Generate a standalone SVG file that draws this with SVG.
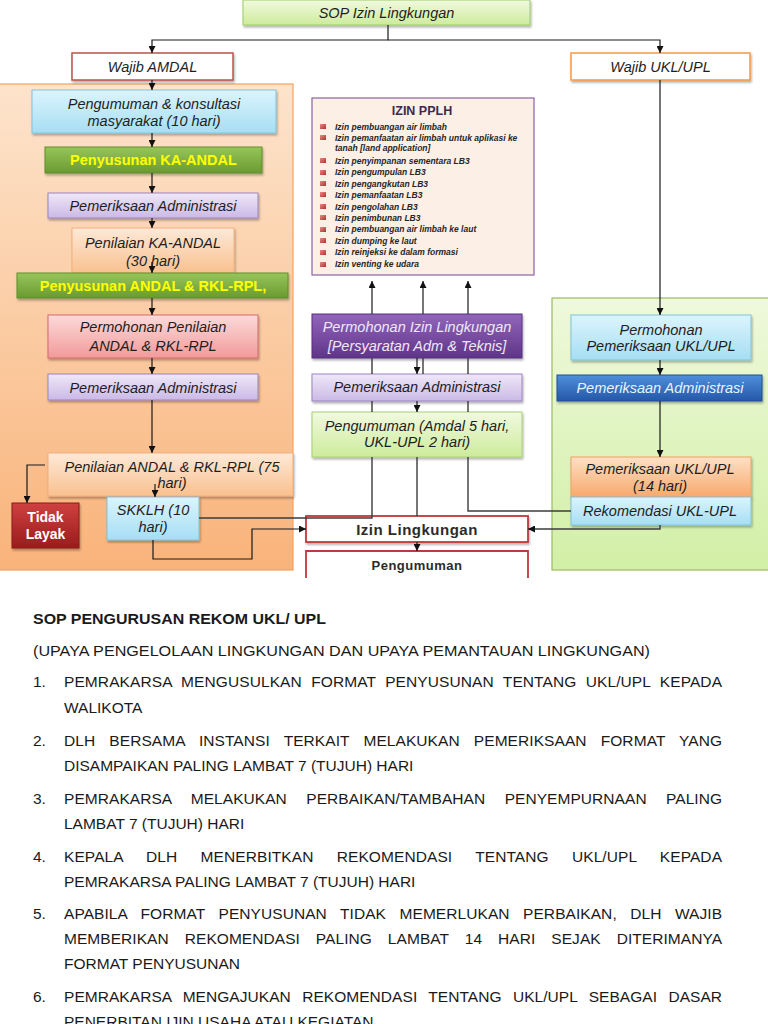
<svg xmlns="http://www.w3.org/2000/svg" width="768" height="1024" viewBox="0 0 768 1024">
<defs>
<linearGradient id="gLime" x1="0" y1="0" x2="0" y2="1"><stop offset="0" stop-color="#f1fadf"/><stop offset="1" stop-color="#cdeb9c"/></linearGradient>
<linearGradient id="gBlue" x1="0" y1="0" x2="0" y2="1"><stop offset="0" stop-color="#dcf4fd"/><stop offset="1" stop-color="#a6def3"/></linearGradient>
<linearGradient id="gGreen" x1="0" y1="0" x2="0" y2="1"><stop offset="0" stop-color="#97c55a"/><stop offset="1" stop-color="#6a9a30"/></linearGradient>
<linearGradient id="gLav" x1="0" y1="0" x2="0" y2="1"><stop offset="0" stop-color="#efe8f8"/><stop offset="1" stop-color="#cbb9e6"/></linearGradient>
<linearGradient id="gPeach" x1="0" y1="0" x2="0" y2="1"><stop offset="0" stop-color="#fde9d8"/><stop offset="1" stop-color="#f9c18f"/></linearGradient>
<linearGradient id="gPink" x1="0" y1="0" x2="0" y2="1"><stop offset="0" stop-color="#fcdada"/><stop offset="1" stop-color="#f29a9a"/></linearGradient>
<linearGradient id="gRed" x1="0" y1="0" x2="0" y2="1"><stop offset="0" stop-color="#cf4040"/><stop offset="1" stop-color="#9a1c1c"/></linearGradient>
<linearGradient id="gPurple" x1="0" y1="0" x2="0" y2="1"><stop offset="0" stop-color="#9266bb"/><stop offset="1" stop-color="#5f3588"/></linearGradient>
<linearGradient id="gDBlue" x1="0" y1="0" x2="0" y2="1"><stop offset="0" stop-color="#4f8fdc"/><stop offset="1" stop-color="#2458a8"/></linearGradient>
<linearGradient id="gOrangeBox" x1="0" y1="0" x2="0" y2="1"><stop offset="0" stop-color="#fde0c6"/><stop offset="1" stop-color="#f8a96c"/></linearGradient>
<linearGradient id="gRegO" x1="0" y1="0" x2="0" y2="1"><stop offset="0" stop-color="#fde4cc"/><stop offset="1" stop-color="#f9b37a"/></linearGradient>
<linearGradient id="gRegG" x1="0" y1="0" x2="0" y2="1"><stop offset="0" stop-color="#eef9dc"/><stop offset="1" stop-color="#d2efa6"/></linearGradient>
<linearGradient id="gBul" x1="0" y1="0" x2="1" y2="1"><stop offset="0" stop-color="#e88a86"/><stop offset="1" stop-color="#a83430"/></linearGradient>
<filter id="sh" x="-10%" y="-20%" width="125%" height="160%"><feDropShadow dx="1" dy="2" stdDeviation="1.2" flood-color="#000" flood-opacity="0.3"/></filter>
<marker id="ah" viewBox="0 0 10 10" refX="10" refY="5" markerWidth="7" markerHeight="7" markerUnits="userSpaceOnUse" orient="auto"><path d="M0,0 L10,5 L0,10 z" fill="#111"/></marker>
</defs>
<style>
.t{font-family:"Liberation Sans",Arial,sans-serif;font-style:italic;font-size:14.5px;fill:#1e1e1e;text-anchor:middle}
.tw{font-family:"Liberation Sans",Arial,sans-serif;font-style:italic;font-size:14.5px;fill:#f0e8f8;text-anchor:middle}
.ty{font-family:"Liberation Sans",Arial,sans-serif;font-weight:bold;font-size:14.5px;fill:#ffff00;text-anchor:middle}
.tk{font-family:"Liberation Sans",Arial,sans-serif;font-weight:bold;fill:#2b2b2b;text-anchor:middle;letter-spacing:0.5px}
.c{fill:none;stroke:#1a1a1a;stroke-width:1.2}
.cg{fill:none;stroke:#3c3c3c;stroke-width:1.4}
.p{font-family:"Liberation Sans",Arial,sans-serif;font-style:italic;font-weight:bold;font-size:8.5px;fill:#262626}
.b{font-family:"Liberation Sans",Arial,sans-serif;font-size:15.5px;fill:#1a1a1a}
</style>

<g id="region-amdal"><rect x="-2" y="84" width="295" height="486" fill="url(#gRegO)" stroke="#f5a05c" stroke-width="1.2"/></g>
<g id="region-ukl"><rect x="552" y="298" width="220" height="272" fill="url(#gRegG)" stroke="#9bbb59" stroke-width="1.2"/></g>

<g id="nodes">
<g id="n-sop"><rect x="243" y="0" width="287" height="25" fill="url(#gLime)" stroke="#9ccb62" filter="url(#sh)"/><text class="t" x="386.5" y="18">SOP Izin Lingkungan</text></g>
<g id="n-wajib-amdal"><rect x="72" y="53" width="161" height="27" fill="#fff" stroke="#c0504d" stroke-width="1.5" filter="url(#sh)"/><text class="t" x="152.5" y="71.5">Wajib AMDAL</text></g>
<g id="n-wajib-ukl"><rect x="571" y="53" width="179" height="27" fill="#fff" stroke="#f79646" stroke-width="1.5" filter="url(#sh)"/><text class="t" x="660.5" y="71.5">Wajib UKL/UPL</text></g>

<g id="n-pengumuman-konsultasi"><rect x="32" y="90" width="244" height="43" fill="url(#gBlue)" stroke="#7fc4dc" filter="url(#sh)"/><text class="t" x="154" y="109">Pengumuman &amp; konsultasi</text><text class="t" x="154" y="126">masyarakat (10 hari)</text></g>
<g id="n-penyusunan-ka"><rect x="45" y="147" width="217" height="26" fill="url(#gGreen)" stroke="#5f8f2a" filter="url(#sh)"/><text class="ty" x="153.5" y="165">Penyusunan KA-ANDAL</text></g>
<g id="n-pemeriksaan-1"><rect x="48" y="193" width="210" height="25" fill="url(#gLav)" stroke="#9b84c0" filter="url(#sh)"/><text class="t" x="153" y="211">Pemeriksaan Administrasi</text></g>
<g id="n-penilaian-ka"><rect x="72" y="228" width="162" height="45" fill="url(#gPeach)" stroke="#f3b07c" filter="url(#sh)"/><text class="t" x="153" y="248">Penilaian KA-ANDAL</text><text class="t" x="153" y="266">(30 hari)</text></g>
<g id="n-penyusunan-andal"><rect x="17" y="273" width="271" height="25" fill="url(#gGreen)" stroke="#5f8f2a" filter="url(#sh)"/><text class="ty" x="153" y="290.5">Penyusunan ANDAL &amp; RKL-RPL,</text></g>
<g id="n-permohonan-penilaian"><rect x="48" y="315" width="210" height="43" fill="url(#gPink)" stroke="#d46a6a" filter="url(#sh)"/><text class="t" x="153" y="332">Permohonan Penilaian</text><text class="t" x="153" y="351">ANDAL &amp; RKL-RPL</text></g>
<g id="n-pemeriksaan-2"><rect x="48" y="374" width="210" height="26" fill="url(#gLav)" stroke="#9b84c0" filter="url(#sh)"/><text class="t" x="153" y="393">Pemeriksaan Administrasi</text></g>
<g id="n-penilaian-andal"><rect x="48" y="453" width="245" height="43" fill="url(#gPeach)" stroke="#f3b07c" filter="url(#sh)"/><text class="t" x="172" y="472">Penilaian ANDAL &amp; RKL-RPL (75</text><text class="t" x="172" y="488">hari)</text></g>
<g id="n-skklh"><rect x="107" y="497" width="92" height="43" fill="url(#gBlue)" stroke="#7fc4dc" filter="url(#sh)"/><text class="t" x="153" y="515">SKKLH (10</text><text class="t" x="153" y="532">hari)</text></g>
<g id="n-tidak-layak"><rect x="12" y="503" width="67" height="45" fill="url(#gRed)" stroke="#8a1a1a" filter="url(#sh)"/><text x="45.5" y="522" font-family="Liberation Sans, Arial, sans-serif" font-weight="bold" font-size="14" fill="#fff" text-anchor="middle">Tidak</text><text x="45.5" y="539" font-family="Liberation Sans, Arial, sans-serif" font-weight="bold" font-size="14" fill="#fff" text-anchor="middle">Layak</text></g>

<g id="n-izin-pplh"><rect x="312" y="98" width="222" height="177" fill="#fcefe6" stroke="#8a62a8" stroke-width="1.2"/>
<text x="422" y="115" font-family="Liberation Sans, Arial, sans-serif" font-weight="bold" font-size="12.5" fill="#3b2a4e" text-anchor="middle">IZIN PPLH</text>
<g fill="url(#gBul)"><rect x="320" y="124" width="6" height="5"/><rect x="320" y="135" width="6" height="5"/><rect x="320" y="158" width="6" height="5"/><rect x="320" y="170" width="6" height="5"/><rect x="320" y="181" width="6" height="5"/><rect x="320" y="192" width="6" height="5"/><rect x="320" y="204" width="6" height="5"/><rect x="320" y="215" width="6" height="5"/><rect x="320" y="227" width="6" height="5"/><rect x="320" y="238" width="6" height="5"/><rect x="320" y="250" width="6" height="5"/><rect x="320" y="262" width="6" height="5"/></g>
<text class="p" x="335" y="129.7">Izin pembuangan air limbah</text>
<text class="p" x="335" y="140.7">Izin pemanfaatan air limbah untuk aplikasi ke</text>
<text class="p" x="335" y="150.7">tanah [land application]</text>
<text class="p" x="335" y="163.7">Izin penyimpanan sementara LB3</text>
<text class="p" x="335" y="175.3">Izin pengumpulan LB3</text>
<text class="p" x="335" y="187">Izin pengangkutan LB3</text>
<text class="p" x="335" y="198">Izin pemanfaatan LB3</text>
<text class="p" x="335" y="209.7">Izin pengolahan LB3</text>
<text class="p" x="335" y="220.7">Izin penimbunan LB3</text>
<text class="p" x="335" y="232.3">Izin pembuangan air limbah ke laut</text>
<text class="p" x="335" y="244">Izin dumping ke laut</text>
<text class="p" x="335" y="255.3">Izin reinjeksi ke dalam formasi</text>
<text class="p" x="335" y="267.3">Izin venting ke udara</text>
</g>
<g id="n-permohonan-izin"><rect x="312" y="314" width="210" height="44" fill="url(#gPurple)" stroke="#553080" filter="url(#sh)"/><text class="tw" x="417" y="332">Permohonan Izin Lingkungan</text><text class="tw" x="417" y="351">[Persyaratan Adm &amp; Teknis]</text></g>
<g id="n-pemeriksaan-3"><rect x="312" y="374" width="210" height="27" fill="url(#gLav)" stroke="#9b84c0" filter="url(#sh)"/><text class="t" x="417" y="392">Pemeriksaan Administrasi</text></g>
<g id="n-pengumuman-amdal"><rect x="312" y="412" width="210" height="45" fill="url(#gLime)" stroke="#a8d070" filter="url(#sh)"/><text class="t" x="417" y="431">Pengumuman (Amdal 5 hari,</text><text class="t" x="417" y="447">UKL-UPL 2 hari)</text></g>
<g id="n-izin-lingkungan"><rect x="306" y="516" width="222" height="26" fill="#fff" stroke="#c0393b" stroke-width="1.8" filter="url(#sh)"/><text class="tk" x="417" y="534.5" font-size="15">Izin Lingkungan</text></g>
<g id="n-pengumuman-akhir"><path d="M306,578 V551 H528 V578" fill="#fff" stroke="#c0393b" stroke-width="1.8"/><text class="tk" x="417" y="570" font-size="13">Pengumuman</text></g>

<g id="n-permohonan-ukl"><rect x="571" y="315" width="180" height="45" fill="url(#gBlue)" stroke="#7fc4dc" filter="url(#sh)"/><text class="t" x="661" y="335">Permohonan</text><text class="t" x="661" y="351">Pemeriksaan UKL/UPL</text></g>
<g id="n-pemeriksaan-4"><rect x="557" y="375" width="205" height="26" fill="url(#gDBlue)" stroke="#1f4f96" filter="url(#sh)"/><text class="tw" x="660" y="393" style="fill:#e8f3ff">Pemeriksaan Administrasi</text></g>
<g id="n-pemeriksaan-ukl"><rect x="571" y="457" width="180" height="40" fill="url(#gOrangeBox)" stroke="#f0a060" filter="url(#sh)"/><text class="t" x="660" y="474">Pemeriksaan UKL/UPL</text><text class="t" x="660" y="491">(14 hari)</text></g>
<g id="n-rekomendasi"><rect x="571" y="497" width="180" height="28" fill="url(#gBlue)" stroke="#7fc4dc" filter="url(#sh)"/><text class="t" x="660" y="515.5">Rekomendasi UKL-UPL</text></g>
</g>

<g id="connectors">
<path class="c" d="M388,25 V40 H152 V53" marker-end="url(#ah)"/>
<path class="c" d="M388,40 H660 V53" marker-end="url(#ah)"/>
<path class="c" d="M152,80 V90" marker-end="url(#ah)"/>
<path class="c" d="M152,133 V147" marker-end="url(#ah)"/>
<path class="c" d="M152,173 V193" marker-end="url(#ah)"/>
<path class="c" d="M152,218 V228" marker-end="url(#ah)"/>
<path class="c" d="M152,262 V273" marker-end="url(#ah)"/>
<path class="c" d="M152,298 V315" marker-end="url(#ah)"/>
<path class="c" d="M152,358 V374" marker-end="url(#ah)"/>
<path class="c" d="M152,400 V453" marker-end="url(#ah)"/>
<path class="c" d="M155,484 V497" marker-end="url(#ah)"/>
<path class="c" d="M45,465 H27 V503" marker-end="url(#ah)"/>
<path class="c" d="M153,540 V559 H252 V529 H306" marker-end="url(#ah)"/>
<path class="cg" d="M199,518 H372 V457 M372,412 V401 M372,374 V358 M372,314 V281" marker-end="url(#ah)"/>
<path class="cg" d="M417,516 V457"/>
<path class="cg" d="M423,374 V358 M423,314 V281" marker-end="url(#ah)"/>
<path class="c" d="M417,358 V374" marker-end="url(#ah)"/>
<path class="c" d="M417,401 V412" marker-end="url(#ah)"/>
<path class="cg" d="M571,511 H468 V457 M468,412 V401 M468,374 V358 M468,314 V281" marker-end="url(#ah)"/>
<path class="c" d="M417,542 V551" marker-end="url(#ah)"/>
<path class="c" d="M660,80 V315" marker-end="url(#ah)"/>
<path class="c" d="M660,360 V375" marker-end="url(#ah)"/>
<path class="c" d="M660,401 V457" marker-end="url(#ah)"/>
<path class="cg" d="M660,525 V529 H528" marker-end="url(#ah)"/>
</g>

<g id="sop-text">
<text class="b" x="33" y="623.5" font-weight="bold" textLength="293" lengthAdjust="spacingAndGlyphs">SOP PENGURUSAN REKOM UKL/ UPL</text>
<text class="b" x="33" y="655.5" textLength="617" lengthAdjust="spacingAndGlyphs">(UPAYA PENGELOLAAN LINGKUNGAN DAN UPAYA PEMANTAUAN LINGKUNGAN)</text>
<text class="b" x="33" y="686.5">1.</text>
<text class="b" x="64" y="686.5" word-spacing="5" textLength="658" lengthAdjust="spacing">PEMRAKARSA MENGUSULKAN FORMAT PENYUSUNAN TENTANG UKL/UPL KEPADA</text>
<text class="b" x="64" y="712.5">WALIKOTA</text>
<text class="b" x="33" y="746">2.</text>
<text class="b" x="64" y="746" word-spacing="9.7" textLength="658" lengthAdjust="spacing">DLH BERSAMA INSTANSI TERKAIT MELAKUKAN PEMERIKSAAN FORMAT YANG</text>
<text class="b" x="64" y="771">DISAMPAIKAN PALING LAMBAT 7 (TUJUH) HARI</text>
<text class="b" x="33" y="804">3.</text>
<text class="b" x="64" y="804" word-spacing="15" textLength="658" lengthAdjust="spacing">PEMRAKARSA MELAKUKAN PERBAIKAN/TAMBAHAN PENYEMPURNAAN PALING</text>
<text class="b" x="64" y="829">LAMBAT 7 (TUJUH) HARI</text>
<text class="b" x="33" y="862">4.</text>
<text class="b" x="64" y="862" word-spacing="18.8" textLength="658" lengthAdjust="spacing">KEPALA DLH MENERBITKAN REKOMENDASI TENTANG UKL/UPL KEPADA</text>
<text class="b" x="64" y="887">PEMRAKARSA PALING LAMBAT 7 (TUJUH) HARI</text>
<text class="b" x="33" y="919">5.</text>
<text class="b" x="64" y="919" word-spacing="9.1" textLength="658" lengthAdjust="spacing">APABILA FORMAT PENYUSUNAN TIDAK MEMERLUKAN PERBAIKAN, DLH WAJIB</text>
<text class="b" x="64" y="944" word-spacing="11.6" textLength="658" lengthAdjust="spacing">MEMBERIKAN REKOMENDASI PALING LAMBAT 14 HARI SEJAK DITERIMANYA</text>
<text class="b" x="64" y="969">FORMAT PENYUSUNAN</text>
<text class="b" x="33" y="1002">6.</text>
<text class="b" x="64" y="1002" word-spacing="7" textLength="658" lengthAdjust="spacing">PEMRAKARSA MENGAJUKAN REKOMENDASI TENTANG UKL/UPL SEBAGAI DASAR</text>
<text class="b" x="64" y="1027">PENERBITAN IJIN USAHA ATAU KEGIATAN</text>
</g>
</svg>
